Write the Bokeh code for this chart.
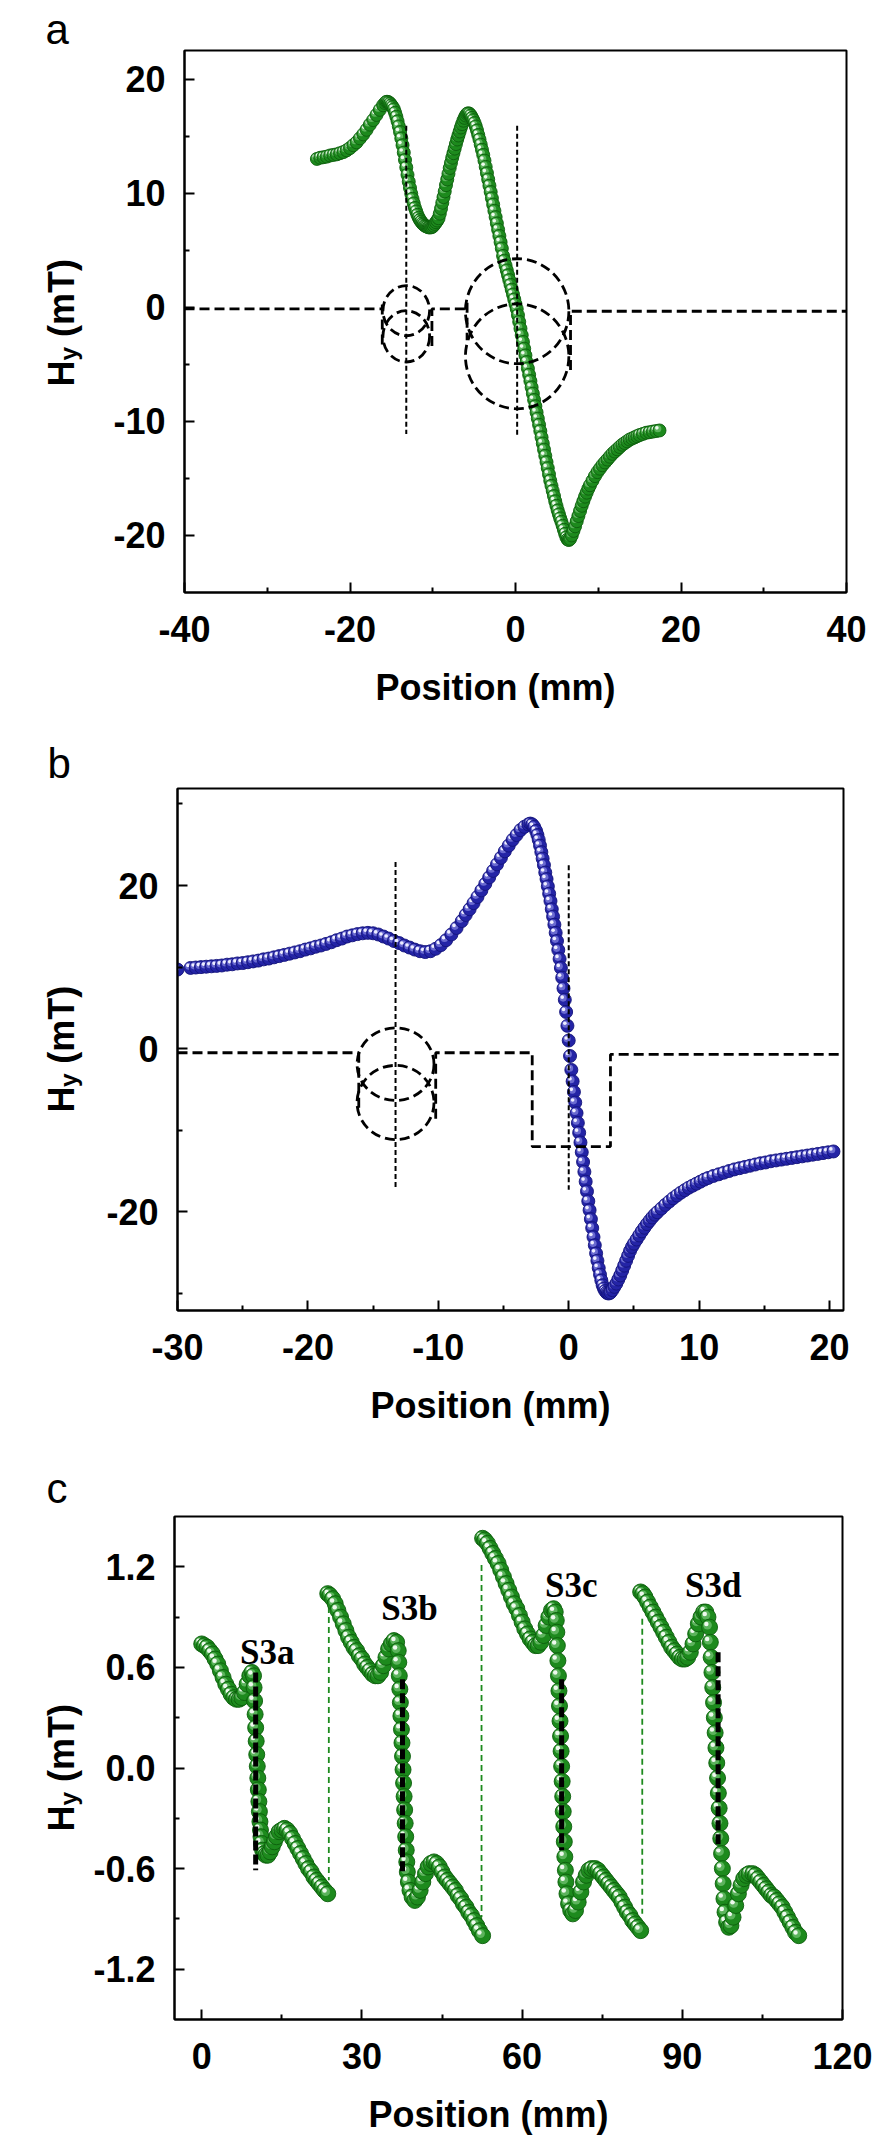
import numpy as np
from bokeh.plotting import figure
from bokeh.models import Range1d, FixedTicker, ColumnDataSource, Title
from bokeh.layouts import column, row
from bokeh.core.properties import value
from bokeh.embed import file_html
from bokeh.resources import INLINE

# ---------------- Panel a data (Position mm, Hy mT) ----------------
a_x = [-24.0, -23.6, -23.2, -22.8, -22.4, -22.0, -21.6, -21.2, -20.8, -20.4, -20.0, -19.6, -19.2, -18.8,
       -18.4, -18.0, -17.6, -17.2, -16.8, -16.4, -16.0, -15.75, -15.6,
       -15.45, -15.3, -15.15, -15.0, -14.85, -14.7, -14.55, -14.4, -14.25, -14.1, -13.95, -13.8, -13.65,
       -13.5, -13.35, -13.2, -13.05, -12.9, -12.75, -12.6, -12.45, -12.3, -12.15, -12.0, -11.85, -11.7,
       -11.55, -11.4, -11.25, -11.1, -10.95, -10.8, -10.65, -10.5, -10.35, -10.2,
       -10.05, -9.9, -9.75, -9.6, -9.45, -9.3, -9.15, -9.0, -8.85, -8.7, -8.55, -8.4, -8.25, -8.1, -7.95,
       -7.8, -7.65, -7.5, -7.35, -7.2, -7.05, -6.9, -6.75, -6.6, -6.45, -6.3, -6.15, -6.0, -5.85, -5.7,
       -5.55, -5.4, -5.25, -5.1, -4.95, -4.8, -4.65, -4.5, -4.35, -4.2, -4.05, -3.9, -3.75, -3.6, -3.45,
       -3.3, -3.15, -3.0, -2.85, -2.7, -2.55, -2.4, -2.25, -2.1, -1.95, -1.8, -1.65, -1.5, -1.35, -1.2,
       -1.05, -0.9, -0.75, -0.6, -0.45, -0.3, -0.15, 0.0, 0.15, 0.3, 0.45, 0.6, 0.75, 0.9, 1.05, 1.2,
       1.35, 1.5, 1.65, 1.8, 1.95, 2.1, 2.25, 2.4, 2.55, 2.7, 2.85, 3.0, 3.15, 3.3, 3.45, 3.6, 3.75, 3.9,
       4.05, 4.2, 4.35, 4.5, 4.65, 4.8, 4.95, 5.1, 5.25, 5.4, 5.55, 5.7, 5.85, 6.0, 6.15, 6.3, 6.45,
       6.6, 6.8, 7.0, 7.2, 7.4, 7.6, 7.8, 8.0, 8.2, 8.4, 8.6, 8.8, 9.0, 9.3, 9.6, 9.9, 10.2, 10.5, 10.8,
       11.1, 11.4, 11.7, 12.0, 12.3, 12.6, 12.9, 13.2, 13.5, 13.8, 14.1, 14.4, 14.7, 15.0, 15.4, 15.8,
       16.2, 16.6, 17.0, 17.4]
a_y = [13.0, 13.1, 13.15, 13.2, 13.3, 13.35, 13.4, 13.5, 13.6, 13.75, 13.95, 14.2, 14.45, 14.8,
       15.15, 15.55, 16.0, 16.4, 16.85, 17.3, 17.7, 17.9, 18.0,
       18.0, 17.95, 17.85, 17.7, 17.55, 17.35, 17.05, 16.7, 16.3, 15.85, 15.35, 14.8, 14.2,
       13.55, 12.9, 12.25, 11.6, 11.0, 10.45, 9.95, 9.5, 9.1, 8.7, 8.4, 8.1, 7.85,
       7.65, 7.5, 7.35, 7.25, 7.15, 7.1, 7.05, 7.0, 7.0, 7.0,
       7.05, 7.15, 7.3, 7.45, 7.6, 7.8, 8.2, 8.65, 9.15, 9.65, 10.15, 10.7, 11.2, 11.7, 12.2,
       12.65, 13.1, 13.5, 13.9, 14.3, 14.7, 15.05, 15.4, 15.75, 16.05, 16.35, 16.6, 16.8, 16.95, 17.0,
       16.95, 16.8, 16.6, 16.4, 16.15, 15.85, 15.5, 15.1, 14.7, 14.25, 13.8, 13.35, 12.85, 12.3, 11.75,
       11.2, 10.65, 10.1, 9.55, 9.0, 8.45, 7.9, 7.35, 6.8, 6.25, 5.7, 5.15, 4.5, 4.08, 3.65,
       3.23, 2.81, 2.38, 1.96, 1.54, 1.12, 0.69, 0.27, -0.15, -0.7, -1.28, -1.87, -2.45, -3.04, -3.63, -4.22,
       -4.8, -5.37, -5.92, -6.47, -7.02, -7.57, -8.12, -8.67, -9.22, -9.76, -10.3, -10.85, -11.4, -11.94, -12.48, -13.02, -13.57, -14.1,
       -14.65, -15.2, -15.65, -16.1, -16.55, -17.0, -17.4, -17.8, -18.15, -18.5, -18.8, -19.15, -19.5, -19.85, -20.15, -20.35, -20.4,
       -20.3, -20.0, -19.6, -19.2, -18.75, -18.3, -17.85, -17.4, -17.0, -16.6, -16.25, -15.9, -15.6, -15.2, -14.8, -14.45, -14.15, -13.85, -13.6,
       -13.35, -13.1, -12.85, -12.65, -12.45, -12.25, -12.05, -11.9, -11.75, -11.6, -11.5, -11.4, -11.3, -11.2, -11.1, -11.0,
       -10.95, -10.9, -10.85, -10.8]

# schematic overlay, panel a
a_prof_xs = [[-40, -16.1], [-16.1, -16.1], [-10.1, -10.1, -5.85], [-5.85, -5.85], [6.65, 6.65, 40]]
a_prof_ys = [[-0.15, -0.15], [0.25, -3.4], [-3.4, -0.15, -0.15], [0.4, -2.9], [-5.5, -0.35, -0.35]]
a_ell_x = [-13.2, -13.2, 0.2, 0.2]
a_ell_y = [-0.3, -2.55, -0.35, -4.3]
a_ell_w = [5.64, 5.64, 12.5, 12.5]
a_ell_h = [4.4, 4.5, 9.2, 9.2]
a_vl_x = [-13.2, 0.2]
a_vl_top = [15.9, 15.9]
a_vl_bot = [-11.1, -11.2]

# ---------------- Panel b data ----------------
b_x = [-30.0,
       -29.0, -28.6, -28.2, -27.8, -27.4, -27.0, -26.6, -26.2, -25.8, -25.4, -25.0, -24.6, -24.2, -23.8,
       -23.4, -23.0, -22.6, -22.2, -21.8, -21.4, -21.0, -20.6, -20.2, -19.8, -19.4, -19.0, -18.6, -18.2,
       -17.8, -17.4, -17.0, -16.6, -16.2, -15.8, -15.4, -15.0, -14.6, -14.2, -13.8, -13.4, -13.0, -12.6,
       -12.2, -11.8, -11.4, -11.0, -10.6, -10.2, -9.8, -9.4, -9.0, -8.6, -8.2,
       -7.9, -7.6, -7.3, -7.0, -6.7, -6.4, -6.1, -5.8, -5.5, -5.2, -4.9, -4.6, -4.3, -4.0, -3.7, -3.4, -3.1,
       -2.95, -2.8, -2.65, -2.5,
       -2.4, -2.3, -2.2, -2.1, -2.0, -1.9, -1.8, -1.7, -1.6, -1.5, -1.4, -1.3, -1.2, -1.1, -1.0, -0.9,
       -0.8, -0.7, -0.6, -0.5, -0.4, -0.3, -0.2, -0.1, 0.0, 0.1, 0.2, 0.3, 0.4, 0.5, 0.6, 0.7, 0.8, 0.9,
       1.0, 1.1, 1.2, 1.3, 1.4, 1.5, 1.6, 1.7, 1.8, 1.9, 2.0, 2.1, 2.2, 2.3, 2.4, 2.5, 2.6, 2.7, 2.8,
       2.9, 3.0, 3.1, 3.2,
       3.35, 3.5, 3.65, 3.8, 3.95, 4.1, 4.25, 4.4, 4.55, 4.7, 4.85, 5.0, 5.2, 5.4, 5.6, 5.8, 6.0, 6.2,
       6.4, 6.6, 6.8, 7.1, 7.4, 7.7, 8.0, 8.3, 8.6, 8.9, 9.2, 9.5, 9.8, 10.1, 10.4, 10.7, 11.1, 11.5,
       11.9, 12.3, 12.7, 13.1, 13.5, 13.9, 14.3, 14.7, 15.1, 15.5, 15.9, 16.3, 16.7, 17.1, 17.5, 17.9,
       18.3, 18.7, 19.1, 19.5, 19.9, 20.3]
b_y = [9.7,
       9.9, 9.95, 10.0, 10.05, 10.1, 10.15, 10.2, 10.3, 10.35, 10.45, 10.5, 10.6, 10.7, 10.8,
       10.95, 11.05, 11.2, 11.35, 11.5, 11.65, 11.8, 11.95, 12.15, 12.3, 12.5, 12.65, 12.85, 13.05,
       13.3, 13.5, 13.75, 13.9, 14.05, 14.15, 14.2, 14.15, 14.0, 13.75, 13.5, 13.2, 12.95, 12.65,
       12.4, 12.15, 11.95, 11.85, 11.95, 12.25, 12.7, 13.3, 14.0, 14.8, 15.65,
       16.4, 17.1, 17.85, 18.6, 19.4, 20.2, 21.0, 21.8, 22.6, 23.4, 24.2, 24.9, 25.6, 26.2, 26.8, 27.2, 27.5,
       27.6, 27.5, 27.2, 26.7,
       26.2, 25.6, 24.9, 24.1, 23.3, 22.5, 21.6, 20.8, 19.9, 19.0, 18.1, 17.1, 16.2, 15.2, 14.2, 13.2,
       12.1, 11.0, 9.9, 8.7, 7.4, 6.0, 4.5, 2.8, 1.0, -0.9, -2.6, -4.0, -5.3, -6.6, -7.9, -9.1, -10.3, -11.5,
       -12.7, -13.9, -15.1, -16.3, -17.5, -18.7, -19.8, -20.9, -22.0, -23.1, -24.1, -25.1, -26.0, -26.9, -27.7, -28.4, -29.0, -29.4, -29.7,
       -29.9, -30.0, -30.0, -29.9,
       -29.6, -29.2, -28.8, -28.3, -27.8, -27.2, -26.6, -26.0, -25.4, -24.8, -24.3, -23.9, -23.4, -22.9, -22.4, -21.95, -21.5, -21.1,
       -20.7, -20.35, -20.05, -19.6, -19.15, -18.75, -18.35, -18.0, -17.65, -17.35, -17.05, -16.8, -16.55, -16.3, -16.05, -15.85, -15.6, -15.4,
       -15.2, -15.0, -14.8, -14.65, -14.5, -14.35, -14.2, -14.05, -13.95, -13.8, -13.7, -13.6, -13.5, -13.4, -13.3, -13.2,
       -13.1, -13.0, -12.9, -12.8, -12.7, -12.6]

b_prof_xs = [[-30, -16.1], [-16.1, -16.1], [-10.2, -10.2, -2.8, -2.8, 3.2, 3.2, 21.1]]
b_prof_ys = [[-0.5, -0.5], [-0.5, -7.8], [-8.6, -0.5, -0.5, -12.0, -12.0, -0.7, -0.7]]
b_ell_x = [-13.28, -13.28]
b_ell_y = [-1.9, -6.6]
b_ell_w = [5.9, 5.9]
b_ell_h = [8.9, 9.1]
b_vl_x = [-13.28, 0.0]
b_vl_top = [22.9, 22.5]
b_vl_bot = [-17.0, -17.3]

# ---------------- Panel c data ----------------
c1_x = [0.0, 0.5, 1.0, 1.5, 2.0, 2.5, 3.0, 3.5, 4.0, 4.5, 5.0, 5.5, 6.0, 6.5, 7.0, 7.5, 8.0, 8.5, 9.0,
        9.4, 9.7, 9.8, 9.9, 10.0, 10.1, 10.2, 10.3, 10.4, 10.5, 10.6, 10.7, 10.8, 10.9, 11.0, 11.1,
        11.2, 11.4, 11.7, 12.0, 12.4, 12.8, 13.2, 13.6, 14.0, 14.5, 15.0, 15.5, 16.0, 16.5, 17.0, 17.5,
        18.0, 18.5, 19.0, 19.5, 20.0, 20.5, 21.0, 21.5, 22.0, 22.5, 23.0, 23.6]
c1_y = [0.74, 0.73, 0.72, 0.70, 0.68, 0.65, 0.62, 0.58, 0.54, 0.50, 0.47, 0.44, 0.42, 0.41, 0.41, 0.42, 0.45, 0.50, 0.55,
        0.57, 0.55, 0.48, 0.40, 0.32, 0.24, 0.16, 0.08, 0.01, -0.06, -0.13, -0.20, -0.26, -0.32, -0.37, -0.41,
        -0.45, -0.49, -0.51, -0.52, -0.52, -0.50, -0.47, -0.44, -0.41, -0.38, -0.37, -0.36, -0.37, -0.39, -0.42, -0.45,
        -0.48, -0.51, -0.54, -0.57, -0.60, -0.62, -0.65, -0.67, -0.69, -0.71, -0.73, -0.75]
c2_x = [23.6, 24.0, 24.5, 25.0, 25.5, 26.0, 26.5, 27.0, 27.5, 28.0, 28.5, 29.0, 29.5, 30.0, 30.5, 31.0,
        31.5, 32.0, 32.5, 33.0, 33.5, 34.0, 34.5, 35.0, 35.5, 36.0, 36.5, 36.8, 36.9, 37.0, 37.1, 37.2,
        37.3, 37.4, 37.5, 37.6, 37.7, 37.8, 37.9, 38.0, 38.1, 38.2, 38.3, 38.4, 38.5, 38.7, 39.0, 39.4,
        39.9, 40.4, 40.9, 41.4, 41.9, 42.4, 42.9, 43.5, 44.0, 44.5, 45.0, 45.5, 46.0, 46.5, 47.0, 47.5,
        48.0, 48.5, 49.0, 49.5, 50.0, 50.5, 51.0, 51.5, 52.0, 52.6]
c2_y = [1.04, 1.03, 1.01, 0.98, 0.94, 0.90, 0.86, 0.82, 0.78, 0.75, 0.72, 0.70, 0.67, 0.65, 0.62, 0.60,
        0.58, 0.56, 0.55, 0.55, 0.57, 0.61, 0.66, 0.71, 0.74, 0.76, 0.75, 0.70, 0.63, 0.55, 0.47, 0.39,
        0.31, 0.23, 0.15, 0.07, -0.01, -0.09, -0.17, -0.25, -0.33, -0.41, -0.49, -0.56, -0.62, -0.68, -0.73, -0.77,
        -0.79, -0.77, -0.73, -0.68, -0.63, -0.59, -0.57, -0.56, -0.57, -0.59, -0.62, -0.65, -0.67, -0.69, -0.71, -0.73,
        -0.76, -0.78, -0.81, -0.83, -0.86, -0.88, -0.91, -0.94, -0.97, -1.00]
c3_x = [52.6, 53.0, 53.5, 54.0, 54.5, 55.0, 55.5, 56.0, 56.5, 57.0, 57.5, 58.0, 58.5, 59.0, 59.5, 60.0,
        60.5, 61.0, 61.5, 62.0, 62.5, 63.0, 63.5, 64.0, 64.5, 65.0, 65.5, 65.9, 66.2, 66.4, 66.5, 66.6,
        66.7, 66.8, 66.9, 67.0, 67.1, 67.2, 67.3, 67.4, 67.5, 67.6, 67.7, 67.8, 67.9, 68.0, 68.1, 68.2,
        68.4, 68.7, 69.1, 69.5, 70.0, 70.5, 71.0, 71.5, 72.0, 72.5, 73.0, 73.7, 74.2, 74.7, 75.2, 75.7,
        76.2, 76.7, 77.2, 77.7, 78.2, 78.7, 79.2, 79.7, 80.2, 80.7, 81.2, 81.7, 82.2]
c3_y = [1.37, 1.36, 1.34, 1.31, 1.28, 1.25, 1.22, 1.18, 1.14, 1.10, 1.06, 1.02, 0.98, 0.95, 0.91, 0.87,
        0.83, 0.80, 0.77, 0.75, 0.73, 0.73, 0.75, 0.79, 0.85, 0.90, 0.94, 0.95, 0.93, 0.88, 0.81, 0.73,
        0.64, 0.55, 0.46, 0.37, 0.28, 0.19, 0.10, 0.01, -0.08, -0.17, -0.26, -0.35, -0.44, -0.53, -0.61, -0.68,
        -0.75, -0.81, -0.85, -0.87, -0.85, -0.80, -0.74, -0.68, -0.64, -0.61, -0.60, -0.60, -0.61, -0.63, -0.65, -0.67,
        -0.69, -0.71, -0.73, -0.75, -0.77, -0.80, -0.83, -0.86, -0.88, -0.91, -0.93, -0.95, -0.97]
c4_x = [82.2, 82.6, 83.0, 83.5, 84.0, 84.5, 85.0, 85.5, 86.0, 86.5, 87.0, 87.5, 88.0, 88.5, 89.0, 89.5,
        90.0, 90.5, 91.0, 91.5, 92.0, 92.5, 93.0, 93.5, 94.0, 94.4, 94.8, 95.1, 95.25, 95.4, 95.55, 95.7,
        95.85, 96.0, 96.15, 96.3, 96.45, 96.6, 96.75, 96.9, 97.05, 97.2, 97.35, 97.5, 97.65, 97.8, 98.0,
        98.3, 98.7, 99.1, 99.5, 100.0, 100.5, 101.0, 101.5, 102.0, 102.5, 103.2, 103.7, 104.2, 104.7,
        105.2, 105.7, 106.2, 106.7, 107.2, 107.7, 108.2, 108.7, 109.2, 109.7, 110.2, 110.7, 111.2, 111.8]
c4_y = [1.05, 1.04, 1.02, 0.99, 0.96, 0.93, 0.90, 0.87, 0.84, 0.81, 0.78, 0.75, 0.72, 0.70, 0.68, 0.66,
        0.65, 0.65, 0.66, 0.69, 0.74, 0.80, 0.86, 0.90, 0.93, 0.93, 0.90, 0.84, 0.75, 0.66, 0.57, 0.48,
        0.39, 0.30, 0.21, 0.12, 0.03, -0.06, -0.15, -0.24, -0.33, -0.42, -0.51, -0.60, -0.69, -0.78, -0.86,
        -0.92, -0.95, -0.94, -0.89, -0.82, -0.75, -0.70, -0.66, -0.64, -0.63, -0.63, -0.64, -0.66, -0.68,
        -0.70, -0.72, -0.74, -0.76, -0.77, -0.79, -0.81, -0.83, -0.86, -0.89, -0.92, -0.95, -0.98, -1.00]

c_lab_text = ["S3a", "S3b", "S3c", "S3d"]
c_lab_x = [12.25, 38.9, 69.2, 95.8]
c_lab_y = [0.69, 0.95, 1.09, 1.09]
c_green_x = [23.8, 52.4, 82.5]
c_green_top = [0.96, 1.21, 0.89]
c_green_bot = [-0.67, -0.89, -0.87]
c_black_x = [10.1, 37.6, 67.4, 96.7]
c_black_top = [0.57, 0.53, 0.53, 0.69]
c_black_bot = [-0.61, -0.64, -0.49, -0.48]

# ---------------- styling helpers ----------------
FONT = "Liberation Sans"
GREEN = ("#1d8a1d", "#0c5e0c", "#5cb35c", "#eef9ee")
BLUE = ("#2424a6", "#13137a", "#6a6ad0", "#eeeeff")
STRIP_W = 90


def make_fig(h, xr, yr, frame_left, frame_right, top, bottom, xt, xmt, yt, ymt, fmt=None):
    p = figure(width=887 - STRIP_W, height=h, x_range=Range1d(*xr), y_range=Range1d(*yr),
               output_backend="svg", toolbar_location=None, title=None,
               min_border_left=frame_left - STRIP_W, min_border_right=887 - frame_right,
               min_border_top=top, min_border_bottom=bottom)
    p.xgrid.visible = False
    p.ygrid.visible = False
    p.outline_line_color = "black"
    p.outline_line_width = 2
    p.outline_line_alpha = 1
    p.xaxis.ticker = FixedTicker(ticks=xt, minor_ticks=xmt)
    p.yaxis.ticker = FixedTicker(ticks=yt, minor_ticks=ymt)
    p.xaxis.major_label_overrides = {t: f"{t:g}" for t in xt}
    if fmt is None:
        p.yaxis.major_label_overrides = {t: f"{t:g}" for t in yt}
    else:
        p.yaxis.major_label_overrides = {t: fmt.format(t) for t in yt}
    for ax in (p.xaxis[0], p.yaxis[0]):
        ax.axis_line_width = 2
        ax.major_tick_in = 10
        ax.major_tick_out = 0
        ax.minor_tick_in = 5
        ax.minor_tick_out = 0
        ax.major_tick_line_width = 2
        ax.minor_tick_line_width = 2
        ax.major_label_text_font = FONT
        ax.major_label_text_font_style = "bold"
        ax.major_label_text_font_size = "36px"
        ax.major_label_text_color = "black"
    p.yaxis.major_label_standoff = 19
    p.xaxis.major_label_standoff = 23
    p.xaxis.axis_label = "Position (mm)" + "\u00a0" * 4
    p.xaxis.axis_label_text_font = FONT
    p.xaxis.axis_label_text_font_style = "bold"
    p.xaxis.axis_label_text_font_size = "36px"
    p.xaxis.axis_label_text_color = "black"
    p.xaxis.axis_label_standoff = 22
    return p


def spheres(p, xs, ys, d, cols, frame_w, frame_h):
    xs = np.asarray(xs, float)
    ys = np.asarray(ys, float)
    n = len(xs)
    dark, edge, mid, light = cols
    ux = (p.x_range.end - p.x_range.start) / frame_w   # data units per pixel
    uy = (p.y_range.end - p.y_range.start) / frame_h
    X = np.stack([xs, xs - 0.13 * d * ux, xs - 0.2 * d * ux], axis=1).ravel()
    Y = np.stack([ys, ys + 0.13 * d * uy, ys + 0.2 * d * uy], axis=1).ravel()
    src = ColumnDataSource(dict(
        x=X, y=Y,
        s=np.tile([d, d * 0.55, d * 0.28], n),
        fc=[str(c) for c in np.tile([dark, mid, light], n)],
        lc=[str(c) for c in np.tile([edge, mid, light], n)],
        lw=np.tile([0.9, 0.0, 0.0], n)))
    p.scatter("x", "y", size="s", fill_color="fc", line_color="lc", line_width="lw", source=src)


def strip(h, frame_h, ylab_y, letter, letter_offset, letter_standoff):
    # narrow figure left of each panel carrying the panel letter and the rotated axis title;
    # its frame is aligned with the panel frame (1 data unit = 1 px)
    ttl = Title(text=letter, align="left", offset=letter_offset, standoff=letter_standoff,
                text_font=FONT, text_font_style="normal", text_font_size="42px",
                text_color="black")
    s = figure(width=STRIP_W, height=h, x_range=Range1d(0, STRIP_W), y_range=Range1d(0, frame_h),
               x_axis_type=None, y_axis_type=None, output_backend="svg", toolbar_location=None,
               title=ttl, min_border=0, min_border_left=0, min_border_right=0,
               min_border_top=0, min_border_bottom=0)
    s.outline_line_color = None
    fs = 36
    sub = 0.68 * fs
    wH = 0.722 * fs
    common = dict(text_font=value(FONT), text_font_style="bold", text_baseline="alphabetic",
                  text_align="left", text_color="black", angle=np.pi / 2)
    s.text([61], [ylab_y], text=["H"], text_font_size=f"{fs}px", **common)
    s.text([68], [ylab_y + wH], text=["y"], text_font_size=f"{sub:.1f}px", **common)
    s.text([61], [ylab_y + wH + 0.556 * sub + 0.278 * fs], text=["(mT)"],
           text_font_size=f"{fs}px", **common)
    return s


# ---------------- Panel a ----------------
pa = make_fig(715, (-40, 40), (-25, 22.5), 184, 846, 50, 123,
              [-40, -20, 0, 20, 40], [-30, -10, 10, 30],
              [-20, -10, 0, 10, 20], [-15, -5, 5, 15])
spheres(pa, a_x, a_y, 13, GREEN, 662, 542)
pa.multi_line(a_prof_xs, a_prof_ys, line_color="black", line_width=2.8, line_dash="10 5")
pa.ellipse(a_ell_x, a_ell_y, width=a_ell_w, height=a_ell_h, fill_alpha=0,
           line_color="black", line_width=2.8, line_dash="10 5")
pa.segment(a_vl_x, a_vl_top, a_vl_x, a_vl_bot, line_color="black", line_width=2, line_dash="5 3")
sa = strip(715, 542, 592 - 386, "a", 45, -5)

# ---------------- Panel b ----------------
pb = make_fig(713, (-30, 21.07), (-32.1, 31.9), 177, 843, 73, 110,
              [-30, -20, -10, 0, 10, 20], [-25, -15, -5, 5, 15],
              [-20, 0, 20], [-30, -10, 10, 30])
spheres(pb, b_x, b_y, 13, BLUE, 666, 530)
pb.multi_line(b_prof_xs, b_prof_ys, line_color="black", line_width=2.8, line_dash="10 5")
pb.ellipse(b_ell_x, b_ell_y, width=b_ell_w, height=b_ell_h, fill_alpha=0,
           line_color="black", line_width=2.8, line_dash="10 5")
pb.segment(b_vl_x, b_vl_top, b_vl_x, b_vl_bot, line_color="black", line_width=2, line_dash="5 3")
sb = strip(713, 530, 1318 - 1117, "b", 47, 3)

# ---------------- Panel c ----------------
pc = make_fig(712, (-5.1, 120), (-1.5, 1.5), 172, 842, 88, 121,
              [0, 30, 60, 90, 120], [15, 45, 75, 105],
              [-1.2, -0.6, 0, 0.6, 1.2], [-0.9, -0.3, 0.3, 0.9], fmt="{:.1f}")
pc.segment(c_green_x, c_green_top, c_green_x, c_green_bot, line_color="#1d8a1d",
           line_width=1.8, line_dash="6 4")
for sx, sy in ((c1_x, c1_y), (c2_x, c2_y), (c3_x, c3_y), (c4_x, c4_y)):
    spheres(pc, sx, sy, 16, GREEN, 670, 503)
pc.segment(c_black_x, c_black_top, c_black_x, c_black_bot, line_color="black",
           line_width=5, line_dash="10 4")
pc.text(c_lab_x, c_lab_y, text=c_lab_text, text_font=value("Liberation Serif"),
        text_font_style="bold", text_font_size="35px", text_align="center",
        text_baseline="middle", text_color="black")
sc = strip(712, 503, 2019 - 1831, "c", 46, 9)

layout = column(row(sa, pa), row(sb, pb), row(sc, pc))
open("out.html", "w").write(file_html(layout, INLINE, "chart"))
